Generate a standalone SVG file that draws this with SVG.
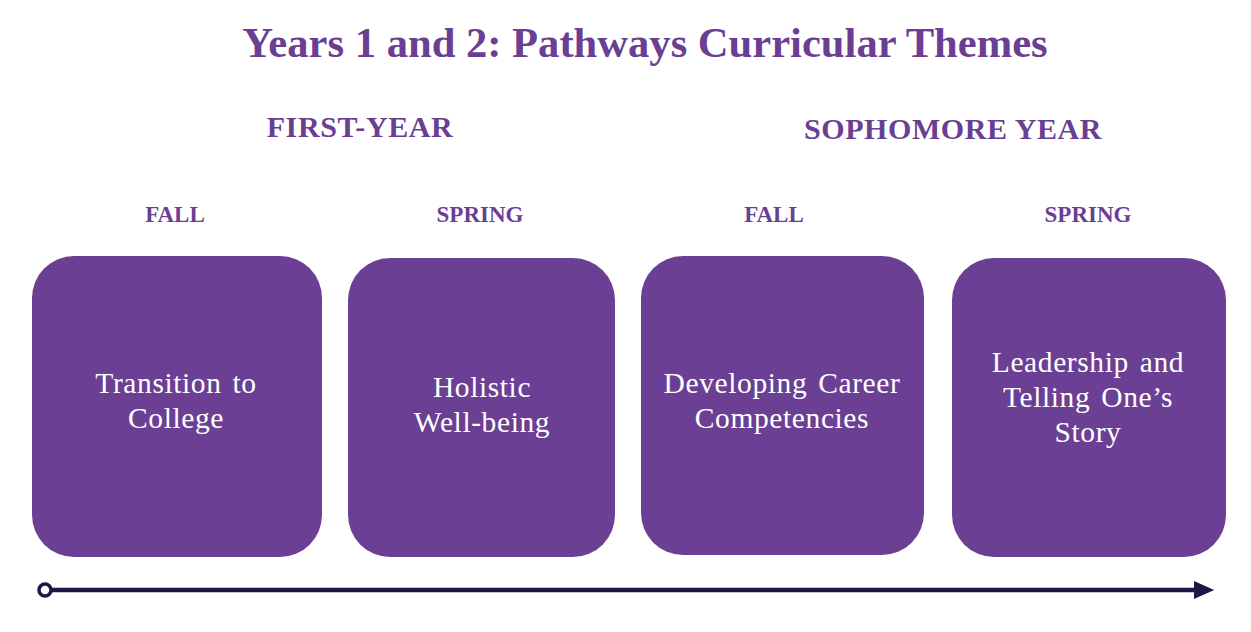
<svg xmlns="http://www.w3.org/2000/svg" width="1251" height="632" viewBox="0 0 1251 632">
<style>
.h{font-family:"Liberation Serif","Times New Roman",serif;font-weight:bold;fill:#6a3f93;text-anchor:middle}
.box{fill:#6b4094}
.t{font-family:"Liberation Serif","Times New Roman",serif;fill:#ffffff;font-size:29.5px;letter-spacing:0.6px;word-spacing:3px;text-anchor:middle}
</style>
<defs>
<marker id="arr" markerWidth="6" markerHeight="4" refX="0" refY="2" orient="auto" markerUnits="strokeWidth"><path d="M0,0 L4.5,2 L0,4 Z" fill="#1b1a47"/></marker>
</defs>
<rect width="1251" height="632" fill="#ffffff"/>
<text class="h" x="645" y="57" font-size="42.6">Years 1 and 2: Pathways Curricular Themes</text>
<text class="h" x="360" y="137" font-size="30" letter-spacing="0.6">FIRST-YEAR</text>
<text class="h" x="953" y="139" font-size="30" letter-spacing="0.6">SOPHOMORE YEAR</text>
<text class="h" x="175" y="222" font-size="23">FALL</text>
<text class="h" x="480" y="222" font-size="23">SPRING</text>
<text class="h" x="774" y="222" font-size="23">FALL</text>
<text class="h" x="1088" y="222" font-size="23">SPRING</text>
<g id="node1"><rect class="box" x="32" y="256" width="290" height="301" rx="42"/><text class="t" x="176" y="393">Transition to</text><text class="t" x="176" y="428">College</text></g>
<g id="node2"><rect class="box" x="348" y="258" width="267" height="299" rx="42"/><text class="t" x="482" y="397">Holistic</text><text class="t" x="482" y="432">Well-being</text></g>
<g id="node3"><rect class="box" x="641" y="256" width="283" height="299" rx="42"/><text class="t" x="782" y="393">Developing Career</text><text class="t" x="782" y="428">Competencies</text></g>
<g id="node4"><rect class="box" x="952" y="258" width="274" height="299" rx="42"/><text class="t" x="1088" y="372">Leadership and</text><text class="t" x="1088" y="407">Telling One’s</text><text class="t" x="1088" y="442">Story</text></g>
<g id="connectors">
<line x1="51" y1="590" x2="1194" y2="590" stroke="#1b1a47" stroke-width="4.5" marker-end="url(#arr)"/>
<circle cx="45" cy="590" r="6" fill="#ffffff" stroke="#1b1a47" stroke-width="3.5"/>
</g>
</svg>
